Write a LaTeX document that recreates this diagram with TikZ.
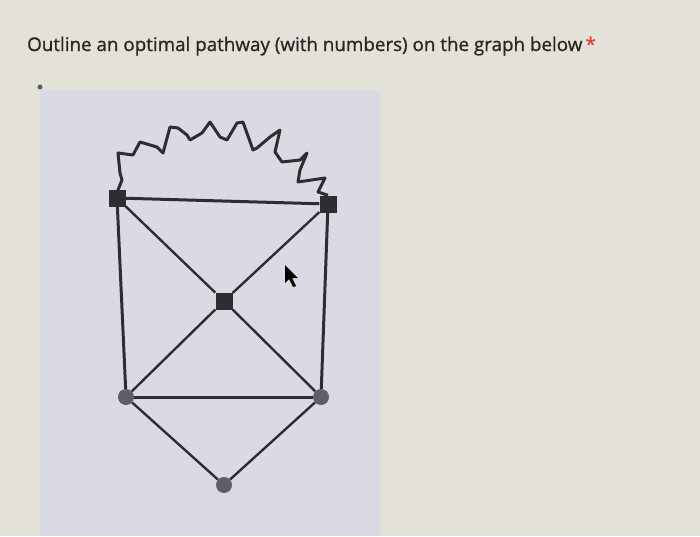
\documentclass[tikz,border=0pt]{standalone}
\usepackage{fontspec}
\setmainfont{Open Sans}
\newfontfamily\titlefont{Open Sans}[FakeBold=0.9]
\usetikzlibrary{arrows.meta, positioning}

\definecolor{screen}{HTML}{E4E2D8}
\definecolor{panel}{HTML}{D9DAE4}
\definecolor{ink}{HTML}{2E2E30}
\definecolor{dot}{HTML}{5E5F66}
\definecolor{req}{HTML}{D9453A}

\begin{document}
\begin{tikzpicture}[
		x=1pt, y=-1pt,
		line join=round,
		edge/.style= {
				draw=ink,
				line width=3pt
			},
		diag/.style= {
				draw=ink,
				line width=2.4pt
			},
		sq/.style= {
				fill=ink,
				minimum size=17pt,
				inner sep=0pt
			},
		rnd/.style= {
				fill=dot,
				circle,
				minimum size=16pt,
				inner sep=0pt
			}
	]

	\fill[screen] (0,0) rectangle (700,536);
	\useasboundingbox (0,0) rectangle (700,536);
	\fill[panel] (40,90) rectangle (380,536);

	\node[anchor=base west, inner sep=0pt, font=\titlefont\fontsize{18.8}{22}\selectfont, text=black!85] (title) at (27,51)
		{Outline an optimal pathway (with numbers) on the graph below\,\textcolor{req}{*}};
	\fill[dot] (40,87) circle (2.5pt);

	\node[sq] (tl) at (117,198) {};
	\node[sq] (tr) at (328,204) {};
	\node[sq] (c) at (224,301) {};
	\node[rnd] (bl) at (126,397) {};
	\node[rnd] (br) at (321,397) {};
	\node[rnd] (b) at (224,485) {};

	\draw[edge] (tl) -- (tr);
	\draw[edge] (tl) -- (bl);
	\draw[edge] (tr) -- (br);
	\draw[edge] (bl) -- (br);
	\draw[diag] (tl) -- (c);
	\draw[diag] (tr) -- (c);
	\draw[diag] (c) -- (bl);
	\draw[diag] (c) -- (br);
	\draw[diag] (bl) -- (b);
	\draw[diag] (br) -- (b);

	% squiggle over the top edge
	\draw[edge] (tl.north) -- (118,190) -- (122,180) -- (120,173) -- (118,153) -- (133,155)
		-- (140,142) -- (157,147) -- (163,153) -- (170,127) -- (178,128) -- (187,135) -- (190,140)
		-- (202,133) -- (210,122) -- (220,137) -- (227,140) -- (237,123) -- (243,122) -- (253,150)
		-- (257,148) -- (270,137) -- (280,130) -- (275,152) -- (282,162) -- (300,160) -- (307,153)
		-- (300,170) -- (298,182) -- (325,178) -- (318,192) -- (tr.north);

	% mouse pointer
	\fill[black] (285,265) -- (285,283) -- (289,279) -- (293,287) -- (296,286) -- (292,278) -- (298,278) -- cycle;
\end{tikzpicture}
\end{document}
